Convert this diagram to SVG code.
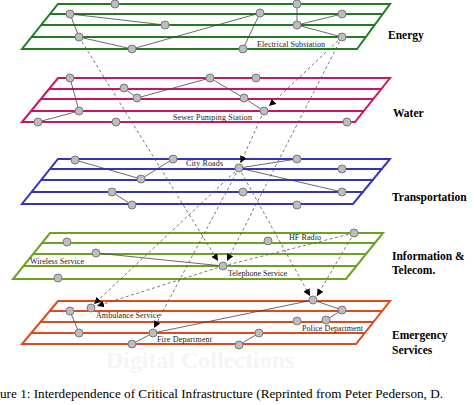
<svg xmlns="http://www.w3.org/2000/svg" width="474" height="405" viewBox="0 0 474 405">
<defs>
<marker id="ah" viewBox="0 0 10 10" refX="10" refY="5" markerWidth="7" markerHeight="7" markerUnits="userSpaceOnUse" orient="auto">
<path d="M0,0 L10,5 L0,10 z" fill="#000"/>
</marker>
</defs>
<style>
.layer polygon,.layer line{fill:none;stroke-width:2;stroke-linejoin:miter}
.en polygon,.en line{stroke:#1f7d1f}
.wa polygon,.wa line{stroke:#cc1464}
.tr polygon,.tr line{stroke:#3434b8}
.in polygon,.in line{stroke:#6aa321}
.em polygon,.em line{stroke:#e0491c}
.e{stroke:#444;stroke-width:0.8;fill:none}
.n{fill:#bdbdbd;stroke:#7a7a7a;stroke-width:1}
.d{stroke:#555;stroke-width:0.8;stroke-dasharray:3,2.5;fill:none}
.da{marker-end:url(#ah)}
.lb{font-size:8px;fill:#222}
.ll{font-size:11.5px;font-weight:bold;fill:#000}
.cap{font-size:13px;fill:#000}
</style>
<rect width="474" height="405" fill="#fff"/>
<text x="200" y="368" text-anchor="middle" font-family="'Liberation Serif', serif" font-weight="bold" font-size="24" fill="#f4f5f8">Digital Collections</text>

<!-- layers -->
<g id="layer-energy" class="layer en">
<polygon points="58,4 390,4 357,49 22,49"/>
<line x1="50" y1="14" x2="382.7" y2="14"/><line x1="41.2" y1="25" x2="374.6" y2="25"/><line x1="31.6" y1="37" x2="365.8" y2="37"/>
</g>
<g id="layer-water" class="layer wa">
<polygon points="58,78 390,78 355,122 22,122"/>
<line x1="49" y1="89" x2="381.3" y2="89"/><line x1="40.8" y1="99" x2="373.3" y2="99"/><line x1="31" y1="111" x2="363.8" y2="111"/>
</g>
<g id="layer-transportation" class="layer tr">
<polygon points="58,159 390,159 353,204 22,204"/>
<line x1="50" y1="169" x2="382.6" y2="169"/><line x1="41.2" y1="180" x2="373.6" y2="180"/><line x1="31.6" y1="192" x2="363.9" y2="192"/>
</g>
<g id="layer-information" class="layer in">
<polygon points="50,233 383,233 346,279 13,279"/>
<line x1="42" y1="243" x2="375" y2="243"/><line x1="33.1" y1="254" x2="366.1" y2="254"/><line x1="23.5" y1="266" x2="356.5" y2="266"/>
</g>
<g id="layer-emergency" class="layer em">
<polygon points="58,301 390,301 356,344 22,344"/>
<line x1="49.6" y1="311" x2="382.1" y2="311"/><line x1="40.4" y1="322" x2="373.4" y2="322"/><line x1="31.2" y1="333" x2="364.7" y2="333"/>
</g>

<!-- intra-layer edges -->
<g id="edges">
<path class="e" d="M70,14 L165,25 M70,14 L79,37 L132,49 L260,13 L243,49 M297,4 L297,25 L342,14 M297,25 L342,37"/>
<path class="e" d="M70,78 L79,111 L38,122 M124,88 L137,98 L210,78 L244,98 L264,111"/>
<path class="e" d="M75,160 L141,179 L173,159 M297,159 L239,168 L342,192 M112,192 L132,205"/>
<path class="e" d="M96,253 L223,266"/>
<path class="e" d="M70,311 L79,333 M132,344 L153,333 L313,300 L342,310 L326,320 M259,333 L239,345"/>
</g>

<!-- dependency connectors -->
<g id="connectors">
<line class="d da" x1="79" y1="37" x2="218" y2="261"/>
<line class="d da" x1="342" y1="37" x2="227" y2="261"/>
<line class="d da" x1="342" y1="37" x2="269" y2="106"/>
<line class="d da" x1="264" y1="111" x2="240.5" y2="163"/>
<line class="d da" x1="239" y1="168" x2="94" y2="304"/>
<line class="d da" x1="239" y1="168" x2="154" y2="328"/>
<line class="d da" x1="239" y1="168" x2="310" y2="296"/>
<line class="d da" x1="223" y1="266" x2="97" y2="306"/>
<line class="d da" x1="354" y1="233" x2="317" y2="296"/>
<line class="d" x1="223" y1="266" x2="354" y2="233"/>
</g>

<!-- nodes -->
<g id="nodes-energy">
<circle class="n" cx="115" cy="4" r="4"/><circle class="n" cx="297" cy="4" r="4"/>
<circle class="n" cx="70" cy="14" r="4"/><circle class="n" cx="260" cy="13" r="4"/><circle class="n" cx="342" cy="14" r="4"/>
<circle class="n" cx="165" cy="25" r="4"/><circle class="n" cx="297" cy="25" r="4"/>
<circle class="n" cx="79" cy="37" r="4"/><circle class="n" cx="342" cy="37" r="4"/>
<circle class="n" cx="132" cy="49" r="4"/><circle class="n" cx="243" cy="49" r="4"/>
</g>
<g id="nodes-water">
<circle class="n" cx="70" cy="78" r="4"/><circle class="n" cx="210" cy="78" r="4"/><circle class="n" cx="256" cy="78" r="4"/>
<circle class="n" cx="124" cy="88" r="4"/>
<circle class="n" cx="137" cy="98" r="4"/><circle class="n" cx="244" cy="98" r="4"/>
<circle class="n" cx="79" cy="111" r="4"/><circle class="n" cx="264" cy="111" r="4"/>
<circle class="n" cx="38" cy="122" r="4"/><circle class="n" cx="116" cy="122" r="4"/><circle class="n" cx="347" cy="122" r="4"/>
</g>
<g id="nodes-transportation">
<circle class="n" cx="75" cy="160" r="4"/><circle class="n" cx="173" cy="159" r="4"/><circle class="n" cx="297" cy="159" r="4"/>
<circle class="n" cx="239" cy="168" r="4"/><circle class="n" cx="342" cy="169" r="4"/>
<circle class="n" cx="141" cy="179" r="4"/>
<circle class="n" cx="112" cy="192" r="4"/><circle class="n" cx="243" cy="192" r="4"/><circle class="n" cx="342" cy="192" r="4"/>
<circle class="n" cx="132" cy="205" r="4"/><circle class="n" cx="297" cy="205" r="4"/>
</g>
<g id="nodes-information">
<circle class="n" cx="67" cy="242" r="4"/><circle class="n" cx="268" cy="241" r="4"/><circle class="n" cx="354" cy="233" r="4"/>
<circle class="n" cx="96" cy="253" r="4"/><circle class="n" cx="223" cy="266" r="4"/><circle class="n" cx="58" cy="278" r="4"/>
</g>
<g id="nodes-emergency">
<circle class="n" cx="70" cy="311" r="4"/><circle class="n" cx="91" cy="308" r="4"/>
<circle class="n" cx="313" cy="300" r="4"/><circle class="n" cx="342" cy="310" r="4"/>
<circle class="n" cx="326" cy="320" r="4"/><circle class="n" cx="297" cy="321" r="4"/>
<circle class="n" cx="79" cy="333" r="4"/><circle class="n" cx="153" cy="333" r="4"/><circle class="n" cx="259" cy="333" r="4"/>
<circle class="n" cx="132" cy="344" r="4"/><circle class="n" cx="239" cy="345" r="4"/>
</g>

<!-- node labels -->
<g id="labels" font-family="'Liberation Serif', 'Times New Roman', serif">
<text class="lb" x="257" y="47" textLength="68">Electrical Substation</text>
<text class="lb" x="173" y="120" textLength="79">Sewer Pumping Station</text>
<text class="lb" x="186" y="166" textLength="37">City Roads</text>
<text class="lb" x="289" y="240" textLength="32">HF Radio</text>
<text class="lb" x="30" y="264" textLength="54">Wireless Service</text>
<text class="lb" x="228" y="276" textLength="59">Telephone Service</text>
<text class="lb" x="96" y="318" textLength="64">Ambulance Service</text>
<text class="lb" x="302" y="331" textLength="61">Police Department</text>
<text class="lb" x="157" y="342" textLength="55">Fire Department</text>
</g>

<!-- layer titles -->
<g id="titles" font-family="'Liberation Serif', 'Times New Roman', serif">
<text class="ll" x="388" y="39">Energy</text>
<text class="ll" x="393" y="117">Water</text>
<text class="ll" x="392" y="201">Transportation</text>
<text class="ll" x="392" y="260">Information &amp;</text>
<text class="ll" x="392" y="274">Telecom.</text>
<text class="ll" x="392" y="339">Emergency</text>
<text class="ll" x="392" y="354">Services</text>
</g>

<text class="cap" font-family="'Liberation Serif', 'Times New Roman', serif" x="0" y="398" textLength="443" lengthAdjust="spacingAndGlyphs">ure 1: Interdependence of Critical Infrastructure (Reprinted from Peter Pederson, D.</text>
</svg>
